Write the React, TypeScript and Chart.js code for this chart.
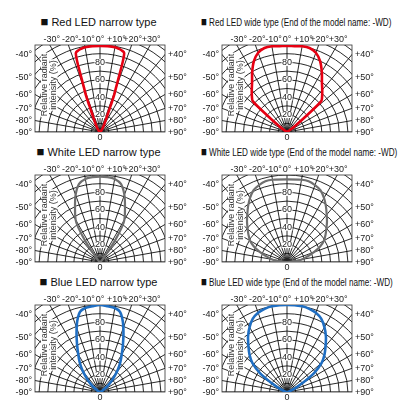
import { useEffect, useRef } from "react"
import { Chart, registerables } from "chart.js"

Chart.register(...registerables)

// half patterns: angle from the LED axis (deg) and relative radiant intensity (%)
const redNarrowAngles = [0, 5, 10, 13, 15, 17, 18, 19, 20, 21, 22, 23, 25, 30, 35, 40, 50, 60, 90]
const redNarrowValues = [99, 99, 99, 98, 97, 95, 84, 65, 53, 45, 33, 25, 17, 9, 5, 3, 1, 0, 0]

const redWideAngles = [0, 5, 10, 15, 20, 25, 30, 35, 40, 45, 48, 50, 53, 56, 60, 70, 90]
const redWideValues = [99, 99, 100, 100, 97, 90, 80, 70, 63, 57, 53, 30, 12, 4, 1, 0, 0]

const whiteNarrowAngles = [0, 5, 10, 15, 20, 25, 30, 32, 35, 37, 40, 45, 50, 60, 70, 90]
const whiteNarrowValues = [98, 98, 97, 93, 82, 68, 56, 48, 30, 16, 8, 4, 2, 1, 0, 0]

const whiteWideAngles = [0, 10, 15, 20, 25, 30, 35, 40, 45, 50, 55, 60, 65, 70, 75, 80, 85, 90]
const whiteWideValues = [95, 96, 96, 94, 91, 85, 78, 71, 65, 59, 54, 49, 42, 33, 24, 18, 11, 0]

const blueNarrowAngles = [0, 5, 10, 14, 18, 22, 26, 30, 34, 38, 42, 46, 51, 55, 60, 70, 90]
const blueNarrowValues = [100, 99, 98, 95, 85, 72, 60, 50, 42, 34, 26, 19, 12, 7, 3, 1, 0]

const blueWideAngles = [0, 10, 15, 20, 25, 30, 35, 40, 45, 50, 55, 60, 65, 70, 80, 90]
const blueWideValues = [100, 100, 99, 97, 93, 86, 78, 69, 61, 52, 38, 20, 10, 4, 1, 0]

// grid and tick labels
const ringValues = [10, 20, 30, 40, 50, 60, 70, 80, 90, 100, 110, 120, 130]
const spokeAngles = [-90, -80, -70, -60, -50, -40, -30, -20, -10, 0, 10, 20, 30, 40, 50, 60, 70, 80, 90]
const topTickAngles = [-30, -20, -10, 0, 10, 20, 30]
const sideTickAngles = [40, 50, 60, 70, 80, 90]
const radialTickValues = [80, 60, 40, 20]

const BOX_W = 130
const BOX_H = 87
const X_HALF = (100 * BOX_W) / BOX_H / 2

const FONT = '"Liberation Sans", Arial, sans-serif'
const deg = (a: number) => (a * Math.PI) / 180
const fmtAngle = (a: number) => (a > 0 ? `+${a}°` : `${a}°`)

function toXY(angles: number[], values: number[]) {
  const pts: { x: number; y: number }[] = []
  for (let i = angles.length - 1; i > 0; i--) {
    const t = deg(-angles[i])
    pts.push({ x: values[i] * Math.sin(t), y: values[i] * Math.cos(t) })
  }
  for (let i = 0; i < angles.length; i++) {
    const t = deg(angles[i])
    pts.push({ x: values[i] * Math.sin(t), y: values[i] * Math.cos(t) })
  }
  return pts
}

function textWithBg(ctx: CanvasRenderingContext2D, text: string, x: number, y: number) {
  const w = ctx.measureText(text).width
  ctx.fillStyle = "#fff"
  ctx.fillRect(x - w / 2 - 0.5, y - 3.5, w + 1, 7)
  ctx.fillStyle = "#222"
  ctx.fillText(text, x, y)
}

const polarGrid = {
  id: "polarGrid",
  beforeDatasetsDraw(chart: Chart) {
    const { ctx, chartArea: a } = chart
    const xs = chart.scales.x
    const ys = chart.scales.y
    const ox = xs.getPixelForValue(0)
    const oy = ys.getPixelForValue(0)
    const k = (oy - ys.getPixelForValue(100)) / 100

    ctx.save()
    ctx.beginPath()
    ctx.rect(a.left, a.top, a.width, a.height)
    ctx.clip()
    ctx.strokeStyle = "#111"
    ctx.lineWidth = 0.9
    ringValues.forEach((r) => {
      ctx.beginPath()
      ctx.arc(ox, oy, r * k, Math.PI, 2 * Math.PI)
      ctx.stroke()
    })
    spokeAngles.forEach((s) => {
      const t = deg(s)
      ctx.beginPath()
      ctx.moveTo(ox, oy)
      ctx.lineTo(ox + 200 * k * Math.sin(t), oy - 200 * k * Math.cos(t))
      ctx.stroke()
    })
    ctx.fillStyle = "#222"
    ctx.beginPath()
    ctx.ellipse(ox, oy, 5, 3.5, 0, Math.PI, 2 * Math.PI)
    ctx.fill()
    ctx.restore()

    ctx.save()
    ctx.strokeStyle = "#333"
    ctx.lineWidth = 0.8
    ctx.strokeRect(a.left, a.top, a.width, a.height)

    ctx.font = `9px ${FONT}`
    ctx.fillStyle = "#222"
    ctx.textAlign = "center"
    ctx.textBaseline = "bottom"
    topTickAngles.forEach((s) => {
      const px = xs.getPixelForValue(ys.max * Math.tan(deg(s)))
      ctx.fillText(fmtAngle(s), px + (s < 0 ? 2 : s > 0 ? 1 : 0), a.top - 1)
    })
    ctx.textBaseline = "middle"
    sideTickAngles.forEach((s) => {
      const py = ys.getPixelForValue(xs.max / Math.tan(deg(s)))
      ctx.textAlign = "right"
      ctx.fillText(fmtAngle(-s), a.left - 3, py + (s === 90 ? 1 : 0))
      ctx.textAlign = "left"
      ctx.fillText(fmtAngle(s), a.right + 3, py + (s === 90 ? 1 : 0))
    })
    ctx.textAlign = "center"
    radialTickValues.forEach((v) => {
      textWithBg(ctx, String(v), ox, ys.getPixelForValue(v))
    })
    ctx.textBaseline = "top"
    ctx.fillText("0", ox, oy + 1.5)

    // rotated axis title
    ctx.translate(ox - 51, oy - 47)
    ctx.rotate(-Math.PI / 2)
    ctx.textBaseline = "middle"
    ctx.font = `9px ${FONT}`
    const lines = ["Relative radiant", "intensity (%)"]
    lines.forEach((line, i) => {
      const w = ctx.measureText(line).width
      const v = i === 0 ? -4 : 4.5
      ctx.fillStyle = "#fff"
      ctx.fillRect(-w / 2 - 1, v - 4, w + 2, 8)
      ctx.fillStyle = "#333"
      ctx.fillText(line, 0, v)
    })
    ctx.restore()
  },
}

interface PanelProps {
  angles: number[]
  values: number[]
  color: string
  lineWidth: number
  originX: number
  boxTop: number
}

function PolarPanel({ angles, values, color, lineWidth, originX, boxTop }: PanelProps) {
  const canvasRef = useRef<HTMLCanvasElement | null>(null)

  useEffect(() => {
    if (!canvasRef.current) return
    const chart = new Chart(canvasRef.current, {
      type: "scatter",
      data: {
        datasets: [
          {
            data: toXY(angles, values),
            showLine: true,
            borderColor: color,
            borderWidth: lineWidth,
            pointRadius: 0,
            tension: 0.3,
          },
        ],
      },
      options: {
        animation: false,
        responsive: true,
        maintainAspectRatio: false,
        layout: { padding: { left: 35, right: 35, top: 15, bottom: 10 } },
        plugins: { legend: { display: false }, tooltip: { enabled: false } },
        scales: {
          x: { type: "linear", min: -X_HALF, max: X_HALF, display: false },
          y: { type: "linear", min: 0, max: 100, display: false },
        },
      },
      plugins: [polarGrid],
    })
    return () => chart.destroy()
  }, [angles, values, color, lineWidth])

  return (
    <div
      style={{
        position: "absolute",
        left: originX - 100,
        top: boxTop - 15,
        width: 200,
        height: BOX_H + 25,
      }}
    >
      <canvas ref={canvasRef}></canvas>
    </div>
  )
}

const titleBase = {
  position: "absolute" as const,
  fontFamily: FONT,
  fontSize: 11,
  lineHeight: "12px",
  color: "#111",
  whiteSpace: "nowrap" as const,
}

function Title({ text, row, wide }: { text: string; row: number; wide: boolean }) {
  const top = 16 + row * 130
  if (!wide) {
    return (
      <div style={{ ...titleBase, left: 0, width: 197, top, textAlign: "center" }}>
        <span style={{ fontSize: 13 }}>■</span> {text}
      </div>
    )
  }
  return (
    <div style={{ ...titleBase, left: 201, top, transform: "scaleX(0.74)", transformOrigin: "left center" }}>
      <span style={{ fontSize: 13 }}>■</span> {text}
    </div>
  )
}

const RED = "#e60012"
const GRAY = "#6f6f6f"
const BLUE = "#1f6ec2"

export default function App() {
  return (
    <div style={{ position: "absolute", left: 0, top: 0, width: 400, height: 418, background: "#fff" }}>
      <Title text="Red LED narrow type" row={0} wide={false} />
      <Title text="Red LED wide type (End of the model name: -WD)" row={0} wide={true} />
      <Title text="White LED narrow type" row={1} wide={false} />
      <Title text="White LED wide type (End of the model name: -WD)" row={1} wide={true} />
      <Title text="Blue LED narrow type" row={2} wide={false} />
      <Title text="Blue LED wide type (End of the model name: -WD)" row={2} wide={true} />

      <PolarPanel angles={redNarrowAngles} values={redNarrowValues} color={RED} lineWidth={2.6} originX={100} boxTop={45} />
      <PolarPanel angles={redWideAngles} values={redWideValues} color={RED} lineWidth={2.6} originX={287} boxTop={45} />
      <PolarPanel angles={whiteNarrowAngles} values={whiteNarrowValues} color={GRAY} lineWidth={2.2} originX={100} boxTop={175} />
      <PolarPanel angles={whiteWideAngles} values={whiteWideValues} color={GRAY} lineWidth={2.2} originX={287} boxTop={175} />
      <PolarPanel angles={blueNarrowAngles} values={blueNarrowValues} color={BLUE} lineWidth={2.6} originX={100} boxTop={305} />
      <PolarPanel angles={blueWideAngles} values={blueWideValues} color={BLUE} lineWidth={2.6} originX={287} boxTop={305} />
    </div>
  )
}
